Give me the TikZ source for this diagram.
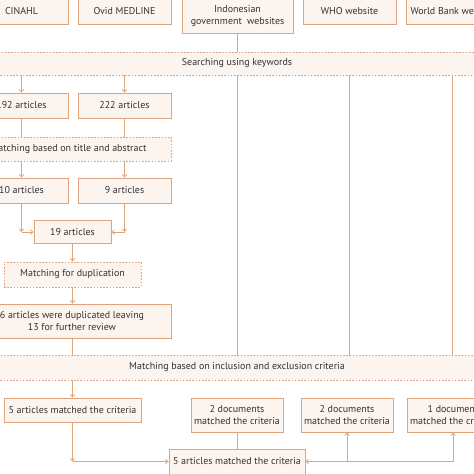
\documentclass[tikz,border=0pt]{standalone}
\usepackage{fontspec}
\setmainfont{PT Sans}
\usetikzlibrary{arrows.meta}
\definecolor{edgec}{HTML}{DFA47C}
\definecolor{fillc}{HTML}{FCF4EE}
\definecolor{txtc}{HTML}{333333}
\begin{document}
\begin{tikzpicture}[x=1bp,y=-1bp,
  box/.style n args={2}{draw=edgec, fill=fillc, line width=0.8bp, minimum width=#1bp, minimum height=#2bp,
    inner sep=0pt, align=center, text=txtc, font=\fontsize{10}{12}\selectfont},
  dbox/.style n args={2}{box={#1}{#2}, dash pattern=on 1.6bp off 1.6bp},
  ln/.style={draw=edgec, line width=0.8bp},
  arr/.style={ln, -{Straight Barb[length=2.6bp,width=4.5bp]}}]
\useasboundingbox (0,0) rectangle (474,474);
\clip (0,0) rectangle (474,474);
% top sources
\node[box={93}{25}] (cin) at (21.5,11.5) {CINAHL};
\node[box={93}{25}] (ovid) at (124.5,11.5) {Ovid MEDLINE};
\node[box={111}{34}] (indo) at (237.5,16) {Indonesian\\government\ \ websites};
\node[box={93}{25}] (who) at (349.5,11.5) {WHO website};
\node[box={93}{25}] (wb) at (452.5,11.5) {World Bank website};
% keyword band
\node[dbox={486}{23}] (kw) at (237,63.5) {Searching using keywords};
\node[box={93}{25}] (a92) at (21.5,105.5) {192 articles};
\node[box={93}{25}] (a222) at (124.5,105.5) {222 articles};
\node[dbox={205}{24}] (title) at (68.5,149) {Matching based on title and abstract};
\node[box={93}{25}] (a10) at (21.5,190.5) {10 articles};
\node[box={93}{25}] (a9) at (124.5,190.5) {9 articles};
\node[box={77}{23}] (a19) at (72.5,232) {19 articles};
\node[dbox={137}{25}] (dup) at (72.5,274.5) {Matching for duplication};
\node[box={198}{34}] (six) at (72,321) {6 articles were duplicated leaving\\13 for further review};
\node[dbox={486}{25}] (incl) at (237,367.5) {Matching based on inclusion and exclusion criteria};
\node[box={137}{24}] (five) at (72.5,410) {5 articles matched the criteria};
\node[box={92}{34}] (d2a) at (237,415) {2 documents\\matched the criteria};
\node[box={92}{34}] (d2b) at (347,415) {2 documents\\matched the criteria};
\node[box={92}{34}] (d1) at (453,415) {1 document\\matched the criteria};
\node[box={136}{25}] (final) at (237,461.5) {5 articles matched the criteria};
% connectors
\draw[ln] (indo.south) -- (indo.south |- kw.north);
\draw[ln] (kw.south -| indo.south) -- (incl.north -| indo.south);
\draw[ln] (kw.south -| who.south) -- (incl.north -| who.south);
\draw[ln] (kw.south -| wb.south) -- (incl.north -| wb.south);
\draw[arr] (kw.south -| a92.north) -- (a92.north);
\draw[arr] (kw.south -| a222.north) -- (a222.north);
\draw[ln] (a92.south) -- (a92.south |- title.north);
\draw[ln] (a222.south) -- (a222.south |- title.north);
\draw[arr] (title.south -| a10.north) -- (a10.north);
\draw[arr] (title.south -| a9.north) -- (a9.north);
\coordinate (c10) at (a10.south |- a19.west);
\coordinate (c9) at (a9.south |- a19.east);
\draw[arr] (a10.south) -- (c10);
\draw[arr] (c10) -- (a19.west);
\draw[arr] (a9.south) -- (c9);
\draw[arr] (c9) -- (a19.east);
\draw[arr] (a19.south) -- (dup.north);
\draw[arr] (dup.south) -- (dup.south |- six.north);
\draw[ln] (six.south -| five.north) -- (incl.north -| five.north);
\draw[arr] (incl.south -| five.north) -- (five.north);
\coordinate (c5) at (five.south |- final.west);
\draw[arr] (five.south) -- (c5);
\draw[arr] (c5) -- (final.west);
\draw[ln] (d2a.south) -- (final.north);
\coordinate (c2) at (d2b.south |- final.east);
\draw[arr] (c2) -- (final.east);
\draw[arr] (c2) -- (d2b.south);
\draw[arr] (c2) -| (d1.south);
\end{tikzpicture}
\end{document}
